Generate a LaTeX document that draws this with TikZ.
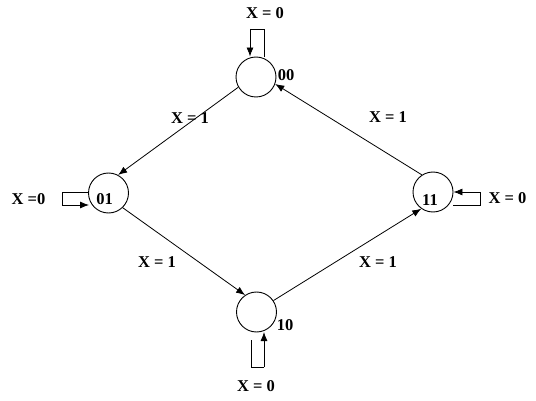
\documentclass[tikz,border=0pt]{standalone}
\usepackage{fontspec}
\setmainfont{Liberation Serif}
\usetikzlibrary{arrows.meta}
\tikzset{
	state/.style={draw, circle, minimum size=40pt, inner sep=0pt, line width=0.9pt},
	lbl/.style={inner sep=0pt, font=\fontsize{16.5}{19}\selectfont\bfseries},
	arr/.style={line width=0.8pt, -{Latex[length=9pt,width=7pt]}},
	loopline/.style={line width=0.8pt}
}
\begin{document}
\begin{tikzpicture} [x=1pt, y=-1pt]
		\useasboundingbox (0,0) rectangle (536,401);
		
		%states
		\node [state] (s00) at (256,77) {};
		\node [state] (s01) at (108.5,193) {};
		\node [state] (s11) at (433,192) {};
		\node [state] (s10) at (256.5,312) {};
		
		%state names
		\node [lbl] (n00) at (286,75) {00};
		\node [lbl] (n01) at (104.5,199) {01};
		\node [lbl] (n11) at (430,200) {11};
		\node [lbl] (n10) at (285,325) {10};
		
		%transitions
		\draw [arr] (s00.210) -- (s01.62);
		\draw [arr] (s01.-46) -- (s10.124);
		\draw [arr] (s10.34) -- (s11.235);
		\draw [arr] (s11.123) -- (s00.-20);
		
		\node [lbl] (t1) at (190,118) {X = 1};
		\node [lbl] (t2) at (388,117) {X = 1};
		\node [lbl] (t3) at (157,262) {X = 1};
		\node [lbl] (t4) at (378,262) {X = 1};
		
		%self loops
		\coordinate (a00) at (264,29);
		\draw [loopline] ([xshift=8pt]s00.north) -- (a00) -- ++(-14,0) coordinate (b00);
		\draw [arr] (b00) -- ([xshift=-6pt]s00.north);
		
		\coordinate (a01) at (62,192);
		\draw [loopline] (s01.west |- a01) -- (a01) -- ++(0,13) coordinate (b01);
		\draw [arr] (b01) -- (89,205);
		
		\coordinate (a11) at (480,205);
		\draw [loopline] (453,205) -- (a11) -- ++(0,-13) coordinate (b11);
		\draw [arr] (b11) -- (s11.east |- b11);
		
		\coordinate (a10) at (251,340);
		\draw [loopline] (a10) -- ++(0,27) -- ++(13,0) coordinate (b10);
		\draw [arr] (b10) -- (264,332);
		
		\node [lbl] (l00) at (265,13) {X = 0};
		\node [lbl] (l01) at (28.5,199) {X =0};
		\node [lbl] (l11) at (507.5,198.5) {X = 0};
		\node [lbl] (l10) at (256,386) {X = 0};
	
	\end{tikzpicture}
\end{document}
